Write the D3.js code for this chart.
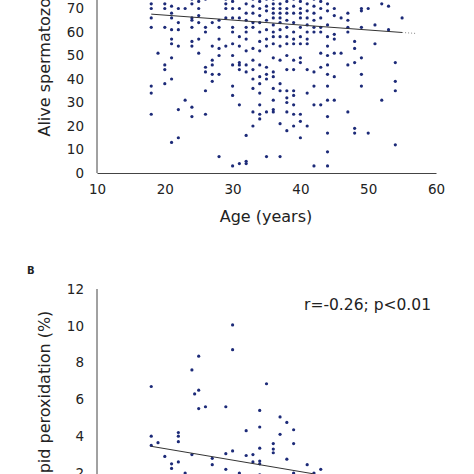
<!DOCTYPE html>
<html>
<head>
<script src="https://d3js.org/d3.v7.min.js"></script>
<style>body{margin:0;background:#fff}text{font-family:"DejaVu Sans",Verdana,sans-serif;fill:#222}</style>
</head>
<body>
<script>
// panel A: age -> alive spermatozoa (%), one list per age column
var aliveByAge = {
18:[75,72,70,66,62,37,34,25],19:[51],20:[72,70,62,46,44,38],21:[71,68,66,61,57,55,49,40,13],
22:[70,64,61,54,27,15],23:[70,31],24:[74,72,66,65,62,56,54,28,24],25:[73,70,67,64,57,51],
26:[74,62,60,45,43,35,25],27:[64,54,48,46,42,39],28:[65,62,57,53,50,42,7],29:[74,72,70,66,54],
30:[73,70,66,62,60,55,50,46,37,33,3],31:[70,66,58,54,47,46,44,29,4],
32:[72,68,65,62,60,57,52,46,43,16,5,4],33:[74,71,68,64,62,53,48,44,40,36,26,20],
34:[75,73,70,67,64,60,56,52,46,41,38,34,29,25,23],35:[74,71,69,65,61,57,54,45,42,40,26,7],
36:[74,72,70,68,66,63,60,58,55,49,43,41,36,31,27,26],37:[75,72,70,68,66,64,61,58,54,48,38,35,21,7],
38:[73,70,68,65,62,58,55,50,44,35,32,30,26,18],39:[74,71,68,64,60,57,55,48,44,35,33,29,25,20],
40:[73,70,68,66,62,58,55,49,47,25,22,15],41:[72,69,66,63,60,57,55,44,34,20],
42:[74,71,68,65,62,60,43,37,29,3],43:[73,70,66,62,60,51,45,29],
44:[72,69,63,58,54,50,46,42,37,31,24,17,9,3],45:[70,67,59,57,51,41,31],46:[66,51],
47:[68,65,62,60,46,26],48:[56,53,47,19,17],49:[70,69,62,49,42,37],50:[70,17],51:[63,55],
52:[72,31],53:[71,61],54:[47,39,35,12],55:[66]
};
var trendA = [[18,67.6],[55,59.8]];
var trendADotted = [[55,59.8],[57,59.4]];

// panel B: age, lipid peroxidation (%)
var ageB =   [18,18,18,19,20,21,21,22,22,22,22,23,24,24,24.4,25,25,25,26,26,27,27,29,29,29,30,30,30,31,32,32,33,33,34,34,34,34,34,34,35,36,36,36,37,37,38,38,39,39,39,41,42,43];
var lipidB = [6.7,4.0,3.5,3.65,2.9,2.5,2.25,4.2,4.0,3.7,2.6,2.0,7.6,3.0,6.3,8.35,6.5,5.5,5.6,1.85,2.8,2.45,5.6,3.05,2.2,10.05,8.7,3.2,2.0,4.3,2.95,3.0,2.6,5.4,4.5,3.35,2.65,2.5,1.9,6.85,3.6,3.3,3.1,5.05,4.1,4.75,2.75,4.35,3.6,2.0,2.45,2.0,2.2];
var trendB = [[18,3.45],[42,1.95]];

var xTicks = [10,20,30,40,50,60];
var yTicksA = [0,10,20,30,40,50,60,70];
var yTicksB = [2,4,6,8,10,12];
var dotColor = "#1c2a78";

var svg = d3.select("body").append("svg").attr("width",474).attr("height",474);
var x = d3.scaleLinear().domain([10,60]).range([97,436]);

// ---- panel A
var yA = d3.scaleLinear().domain([0,70]).range([173,8.5]);
var ptsA = [];
Object.keys(aliveByAge).forEach(function(k){
	aliveByAge[k].forEach(function(v){ ptsA.push([+k,v]); });
});
var gA = svg.append("g");
gA.append("g").attr("transform","translate(0,173)")
	.call(d3.axisBottom(x).tickValues(xTicks).tickSize(0).tickPadding(11))
	.call(function(g){ g.select(".domain").attr("stroke","#444"); g.selectAll("text").attr("font-size",13.5); });
gA.append("g").attr("transform","translate(97,0)")
	.call(d3.axisLeft(yA).tickValues(yTicksA).tickSize(0).tickPadding(13))
	.call(function(g){ g.select(".domain").attr("stroke","#444").attr("d","M0,-10V173"); g.selectAll("text").attr("font-size",13.5); });
gA.selectAll("circle").data(ptsA).enter().append("circle")
	.attr("cx",function(d){return x(d[0]);}).attr("cy",function(d){return yA(d[1]);})
	.attr("r",1.6).attr("fill",dotColor);
var lineA = d3.line().x(function(d){return x(d[0]);}).y(function(d){return yA(d[1]);});
gA.append("path").attr("d",lineA(trendA)).attr("stroke","#333").attr("fill","none");
gA.append("path").attr("d",lineA(trendADotted)).attr("stroke","#888").attr("stroke-dasharray","1,2").attr("fill","none");
gA.append("text").attr("x",266).attr("y",222).attr("text-anchor","middle").attr("font-size",16).text("Age (years)");
gA.append("text").attr("transform","translate(50,46) rotate(-90)").attr("text-anchor","middle").attr("font-size",16).text("Alive spermatozoa (%)");

// ---- panel B
var yB = d3.scaleLinear().domain([2,12]).range([473,289]);
var gB = svg.append("g");
gB.append("text").attr("x",27).attr("y",274).attr("font-size",10).attr("font-weight","bold").text("B");
gB.append("g").attr("transform","translate(97,0)")
	.call(d3.axisLeft(yB).tickValues(yTicksB).tickSize(0).tickPadding(13))
	.call(function(g){ g.select(".domain").attr("stroke","#444").attr("d","M0,289V520"); g.selectAll("text").attr("font-size",13.5); });
gB.selectAll("circle").data(ageB).enter().append("circle")
	.attr("cx",function(d){return x(d);}).attr("cy",function(d,i){return yB(lipidB[i]);})
	.attr("r",1.6).attr("fill",dotColor);
var lineB = d3.line().x(function(d){return x(d[0]);}).y(function(d){return yB(d[1]);});
gB.append("path").attr("d",lineB(trendB)).attr("stroke","#333").attr("fill","none");
gB.append("text").attr("x",431).attr("y",310).attr("text-anchor","end").attr("font-size",15.5).text("r=-0.26; p<0.01");
gB.append("text").attr("transform","translate(50,425) rotate(-90)").attr("text-anchor","middle").attr("font-size",16).text("Sperm lipid peroxidation (%)");
</script>
</body>
</html>
